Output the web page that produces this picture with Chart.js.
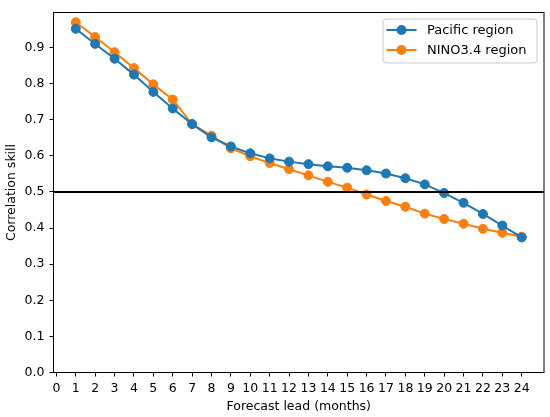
<!DOCTYPE html>
<html>
<head>
<meta charset="utf-8">
<script src="https://cdn.jsdelivr.net/npm/chart.js@4.4.0/dist/chart.umd.min.js"></script>
<style>
html, body { margin: 0; padding: 0; background: #fff; }
#wrap { width: 550px; height: 417px; position: relative; }
</style>
</head>
<body>
<div id="wrap"><canvas id="skillChart"></canvas></div>
<script>
(function(){
    "use strict";

    // forecast lead in months
    var leads = [1, 2, 3, 4, 5, 6, 7, 8, 9, 10, 11, 12, 13, 14, 15, 16, 17, 18, 19, 20, 21, 22, 23, 24];
    var pacific = [0.952, 0.910, 0.869, 0.825, 0.777, 0.731, 0.688, 0.651, 0.626, 0.607, 0.593, 0.584,
                   0.577, 0.571, 0.567, 0.560, 0.551, 0.538, 0.521, 0.497, 0.470, 0.439, 0.407, 0.374];
    var nino34 = [0.970, 0.929, 0.887, 0.843, 0.798, 0.756, 0.688, 0.656, 0.621, 0.599, 0.580, 0.563,
                  0.546, 0.528, 0.512, 0.493, 0.475, 0.459, 0.440, 0.425, 0.412, 0.398, 0.387, 0.376];
    var seriesNames = ["Pacific region", "NINO3.4 region"];
    var seriesColors = ["#1f77b4", "#ff7f0e"];
    var xTicks = [0, 1, 2, 3, 4, 5, 6, 7, 8, 9, 10, 11, 12, 13, 14, 15, 16, 17, 18, 19, 20, 21, 22, 23, 24];
    var yTicks = [0, 0.1, 0.2, 0.3, 0.4, 0.5, 0.6, 0.7, 0.8, 0.9];
    var threshold = 0.5;

    Chart.defaults.font.family = "'DejaVu Sans', sans-serif";
    Chart.defaults.font.size = 12.5;
    Chart.defaults.color = "#000";

    function toPoints(vals) {
        return vals.map(function(v, i){ return {x: leads[i], y: v}; });
    }

    // axhline + frame like matplotlib
    var framePlugin = {
        id: "frame",
        afterDatasetsDraw: function(chart) {
            var ctx = chart.ctx, a = chart.chartArea;
            var y = chart.scales.y.getPixelForValue(threshold);
            ctx.save();
            ctx.strokeStyle = "#000";
            ctx.lineWidth = 2;
            ctx.beginPath();
            ctx.moveTo(a.left, y);
            ctx.lineTo(a.right, y);
            ctx.stroke();
            ctx.lineWidth = 1;
            ctx.strokeRect(a.left, a.top, a.right - a.left, a.bottom - a.top);
            ctx.restore();
        }
    };

    // legend in upper right corner of axes
    var legendPlugin = {
        id: "boxLegend",
        afterDraw: function(chart) {
            var ctx = chart.ctx, a = chart.chartArea;
            var w = 154, h = 44;
            var x0 = a.right - 161.5, y0 = a.top + 6;
            ctx.save();
            ctx.fillStyle = "rgba(255,255,255,0.8)";
            ctx.strokeStyle = "#cccccc";
            ctx.lineWidth = 1;
            ctx.beginPath();
            ctx.roundRect(x0 + 0.5, y0 + 0.5, w, h, 3);
            ctx.fill();
            ctx.stroke();
            ctx.font = "13px 'DejaVu Sans', sans-serif";
            ctx.textBaseline = "middle";
            chart.data.datasets.forEach(function(ds, i){
                var cy = y0 + 11.5 + i * 20;
                ctx.strokeStyle = ds.borderColor;
                ctx.lineWidth = 2;
                ctx.beginPath();
                ctx.moveTo(x0 + 4, cy);
                ctx.lineTo(x0 + 34, cy);
                ctx.stroke();
                ctx.fillStyle = ds.borderColor;
                ctx.beginPath();
                ctx.arc(x0 + 19, cy, 5, 0, Math.PI * 2);
                ctx.fill();
                ctx.fillStyle = "#000";
                ctx.fillText(ds.label, x0 + 44.5, cy + 1);
            });
            ctx.restore();
        }
    };

    var chartArea = document.querySelector("#skillChart");
    new Chart(chartArea, {
        type: "line",
        data: {
            datasets: [
                {
                    label: seriesNames[0],
                    data: toPoints(pacific),
                    borderColor: seriesColors[0],
                    backgroundColor: seriesColors[0],
                    borderWidth: 2,
                    pointRadius: 4.5,
                    pointBorderWidth: 1,
                    pointHoverRadius: 4.5,
                    tension: 0
                },
                {
                    label: seriesNames[1],
                    data: toPoints(nino34),
                    borderColor: seriesColors[1],
                    backgroundColor: seriesColors[1],
                    borderWidth: 2,
                    pointRadius: 4.5,
                    pointBorderWidth: 1,
                    pointHoverRadius: 4.5,
                    tension: 0
                }
            ]
        },
        options: {
            responsive: true,
            maintainAspectRatio: false,
            animation: false,
            layout: { padding: { top: 9, right: 6, left: 0, bottom: 0 } },
            plugins: {
                legend: { display: false },
                tooltip: { enabled: false }
            },
            scales: {
                x: {
                    type: "linear",
                    min: -0.15,
                    max: 25.15,
                    afterBuildTicks: function(scale) {
                        scale.ticks = xTicks.map(function(v){ return {value: v}; });
                    },
                    afterFit: function(scale) { scale.height = 44.5; },
                    ticks: { autoSkip: false, maxRotation: 0, padding: 5, color: "#000" },
                    grid: { drawOnChartArea: false, drawTicks: true, tickLength: 4, tickColor: "#000" },
                    border: { display: false },
                    title: { display: true, text: "Forecast lead (months)", padding: { top: 0, bottom: 3 }, font: { size: 12.5 } }
                },
                y: {
                    min: 0,
                    max: 0.997,
                    afterBuildTicks: function(scale) {
                        scale.ticks = yTicks.map(function(v){ return {value: v}; });
                    },
                    afterFit: function(scale) { scale.width = 53.5; },
                    ticks: {
                        padding: 5,
                        color: "#000",
                        callback: function(v) { return v.toFixed(1); }
                    },
                    grid: { drawOnChartArea: false, drawTicks: true, tickLength: 4, tickColor: "#000" },
                    border: { display: false },
                    title: { display: true, text: "Correlation skill", padding: { top: 4, bottom: 0 }, font: { size: 12.5 } }
                }
            }
        },
        plugins: [framePlugin, legendPlugin]
    });
})();
</script>
</body>
</html>
